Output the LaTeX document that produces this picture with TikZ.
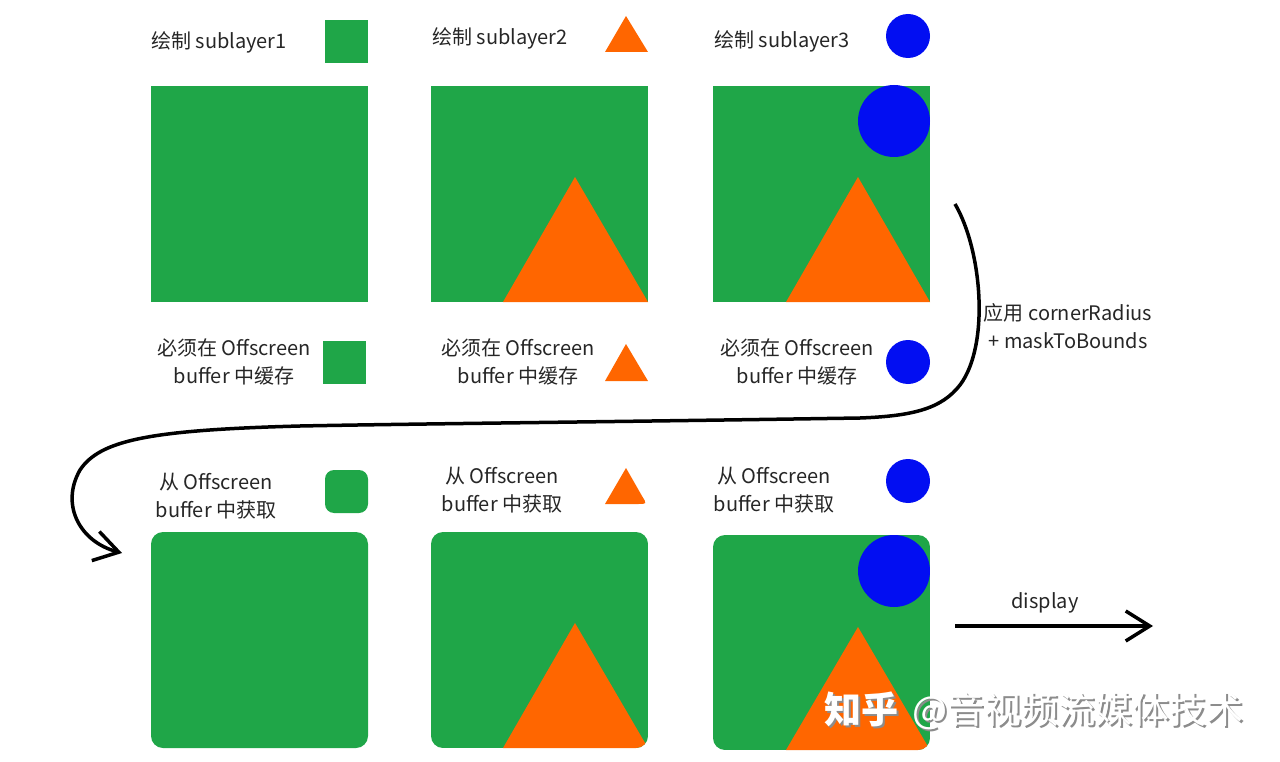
\documentclass[tikz,border=0pt]{standalone}
\usepackage{fontspec}
\setmainfont{Noto Sans CJK SC}
\usetikzlibrary{arrows.meta}
\definecolor{lgreen}{RGB}{31,166,72}
\definecolor{lorange}{RGB}{255,102,0}
\definecolor{lblue}{RGB}{2,14,242}
\tikzset{>={Straight Barb[length=24pt,width=30pt]}}

\begin{document}
\begin{tikzpicture}[x=1pt,y=-1pt]
\useasboundingbox (0,0) rectangle (1280,762);
\begin{scope}[every node/.style={align=center,text=black!85,font=\fontsize{20}{28}\selectfont}]
\node (t1) at (219,42) {绘制 sublayer1};
\node (t2) at (500,38) {绘制 sublayer2};
\node (t3) at (782,41) {绘制 sublayer3};
\node (m1) at (234,362) {必须在 Offscreen\\buffer 中缓存};
\node (m2) at (518,362) {必须在 Offscreen\\buffer 中缓存};
\node (m3) at (797,362) {必须在 Offscreen\\buffer 中缓存};
\node (b1) at (216,496) {从 Offscreen\\buffer 中获取};
\node (b2) at (502,490) {从 Offscreen\\buffer 中获取};
\node (b3) at (774,490) {从 Offscreen\\buffer 中获取};
\node (apply) at (1068,326) {应用 cornerRadius\\+ maskToBounds};
\node (disp) at (1045,603) {display};
\end{scope}

% sublayers
\fill[lgreen] (325,20) rectangle (368,63);
\fill[lorange] (626,16) -- (648,52) -- (605,52) -- cycle;
\fill[lblue] (908,36) circle (22pt);

% top row
\fill[lgreen] (151,86) rectangle (368,302);
\fill[lgreen] (431,86) rectangle (648,302);
\fill[lorange] (575,177) -- (648,302) -- (503,302) -- cycle;
\fill[lgreen] (713,86) rectangle (930,302);
\fill[lorange] (858,177) -- (930,302) -- (786,302) -- cycle;
\fill[lblue] (894,121) circle (36pt);

% cached
\fill[lgreen] (323,341) rectangle (366,384);
\fill[lorange] (626,344) -- (648,381) -- (605,381) -- cycle;
\fill[lblue] (908,362) circle (22pt);

% from buffer
\fill[lgreen,rounded corners=9pt] (325,470) rectangle (368,513);
\fill[lorange] (605,504) -- (626,468) -- (642,496) .. controls (647,504) .. (638,504) -- cycle;
\fill[lblue] (908,481) circle (22pt);

% bottom row
\fill[lgreen,rounded corners=12pt] (151,532) rectangle (368,748);
\begin{scope}
\clip[rounded corners=12pt] (431,532) rectangle (648,748);
\fill[lgreen] (431,532) rectangle (648,748);
\fill[lorange] (575,623) -- (648,748) -- (503,748) -- cycle;
\end{scope}
\begin{scope}
\clip[rounded corners=12pt] (713,535) rectangle (930,750);
\fill[lgreen] (713,535) rectangle (930,750);
\fill[lorange] (858,627) -- (930,750) -- (786,750) -- cycle;
\fill[lblue] (894,571) circle (36pt);
\end{scope}

\coordinate (c0) at (955,204);
\coordinate (c1) at (122,553);
\coordinate (d0) at (955,626);
\coordinate (d1) at (1153,626);
\draw[->,line width=3.5pt] (c0) .. controls (982,250) and (990,345) .. (960,385)
  .. controls (942,408) and (915,416) .. (860,418)
  .. controls (600,422) and (400,424) .. (300,426)
  .. controls (150,430) and (100,440) .. (80,470)
  .. controls (60,505) and (80,542) .. (c1);
\draw[->,line width=3.5pt] (d0) -- (d1);

% watermark
\node[font=\fontsize{37}{37}\selectfont,text=black!45] (wm0) at (1036,713) {\textbf{知乎}\, @音视频流媒体技术};
\node[font=\fontsize{37}{37}\selectfont,text=white] (wm) at (1034,711) {\textbf{知乎}\, @音视频流媒体技术};
\end{tikzpicture}
\end{document}
